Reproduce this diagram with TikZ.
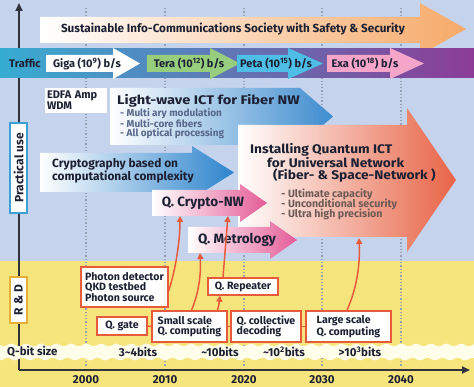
\documentclass[tikz,border=0pt]{standalone}
\usepackage{graphicx}
\usepackage{fontspec}
\setmainfont{Fira Sans}
\usetikzlibrary{arrows.meta,calc}
\definecolor{bgblue}{RGB}{198,211,237}
\definecolor{bgyellow}{RGB}{246,229,124}
\definecolor{gridc}{RGB}{150,160,178}
\definecolor{axisc}{RGB}{50,50,60}
\definecolor{txt}{RGB}{28,32,50}
\definecolor{topor}{RGB}{246,170,105}
\definecolor{teal}{RGB}{55,172,210}
\definecolor{midblue}{RGB}{100,125,195}
\definecolor{purp}{RGB}{140,60,150}
\definecolor{terag}{RGB}{150,206,125}
\definecolor{petac}{RGB}{78,190,230}
\definecolor{exap}{RGB}{244,165,200}
\definecolor{lwblue}{RGB}{62,140,207}
\definecolor{crblue}{RGB}{45,132,205}
\definecolor{qorange}{RGB}{232,100,70}
\definecolor{qpink}{RGB}{228,92,150}
\definecolor{redc}{RGB}{232,90,60}
\definecolor{bulblue}{RGB}{88,104,138}
\definecolor{bulbrown}{RGB}{110,90,85}
\definecolor{pracc}{RGB}{60,160,215}
\definecolor{rndc}{RGB}{230,175,55}
\newcommand{\wide}[2]{\scalebox{#1}[1]{#2}}
\begin{document}
\begin{tikzpicture}[x=1pt,y=-1pt,
  every node/.style={text=txt, font=\bfseries\fontsize{9}{10.5}\selectfont, inner sep=0pt},
  grid/.style={gridc, line width=1.3pt, dash pattern=on 1.3pt off 2pt},
  redbox/.style={draw=redc, line width=1.4pt, fill=white, align=left, inner sep=2pt, font=\bfseries\fontsize{10.6}{10.2}\selectfont},
  redarrow/.style={draw=redc, line width=1.5pt, -{Triangle[length=6pt,width=6pt]}},
  redline/.style={draw=redc, line width=1.4pt},
  sidebox/.style={fill=white, line width=1.6pt, rotate=90, minimum height=17pt, font=\bfseries\fontsize{12}{12}\selectfont},
  bigtxt/.style={font=\bfseries\fontsize{13.5}{14}\selectfont},
  qtxt/.style={font=\bfseries\fontsize{12.5}{14}\selectfont, anchor=west},
  bultxt/.style={font=\bfseries\fontsize{10}{10}\selectfont, anchor=west},
  yeartxt/.style={font=\bfseries\fontsize{11.5}{12}\selectfont},
  qbittxt/.style={font=\bfseries\fontsize{11.5}{12}\selectfont},
  traftxt/.style={font=\bfseries\fontsize{11}{12}\selectfont}
]
\useasboundingbox (0,0) rectangle (474,387);
% backgrounds
\fill[bgblue] (0,0) rectangle (474,261);
\fill[bgyellow] (0,261) rectangle (474,387);
% grid lines
\foreach \gx in {86,165,244,322,401} \draw[grid] (\gx,8) -- (\gx,366);
% axes
\coordinate (origin) at (19,370);
\coordinate (ytop) at (19,3);
\coordinate (xend) at (470,370);
\draw[axisc, line width=1.8pt, -{Triangle[length=8pt,width=7pt]}] (origin) -- (ytop);
\draw[axisc, line width=1.8pt, -{Triangle[length=8pt,width=7pt]}] (origin) -- (xend);
% q-bit wavy band
\fill[white!92!yellow] plot[domain=0:474, samples=160, smooth] (\x,{345+1.4*sin(\x*24)}) -- plot[domain=474:0, samples=160, smooth] (\x,{359+1.4*sin(\x*24+90)}) -- cycle;
% top arrow
\shade[left color=white, right color=topor] (40,17) -- (420,17) -- (420,3) -- (466,29) -- (420,55) -- (420,43) -- (40,43) -- cycle;
\node[font=\bfseries\fontsize{11.7}{12}\selectfont] (society) at (233,29.5) {Sustainable Info-Communications Society with Safety \& Security};
% traffic band
\shade[left color=teal, middle color=midblue, right color=purp] (0,49) rectangle (474,78);
\node[traftxt, anchor=west] (traffic) at (9,63.5) {Traffic};
\fill[white] (46,55) -- (113,55) -- (113,48) -- (140,63.5) -- (113,79) -- (113,72) -- (46,72) -- cycle;
\fill[terag] (147,55) -- (210,55) -- (210,48) -- (240,63.5) -- (210,79) -- (210,72) -- (147,72) -- cycle;
\fill[petac] (237,55) -- (288,55) -- (288,48) -- (323,63.5) -- (288,79) -- (288,72) -- (237,72) -- cycle;
\fill[exap] (327,55) -- (390,55) -- (390,48) -- (424,63.5) -- (390,79) -- (390,72) -- (327,72) -- cycle;
\node[traftxt] (giga) at (87,63.5) {Giga (10\textsuperscript{9}) b/s};
\node[traftxt] (tera) at (189,63.5) {Tera (10\textsuperscript{12}) b/s};
\node[traftxt] (peta) at (276,63.5) {Peta (10\textsuperscript{15}) b/s};
\node[traftxt] (exa) at (365,63.5) {Exa (10\textsuperscript{18}) b/s};
% EDFA box
\node[fill=white, minimum width=62pt, minimum height=25pt, align=left, text width=58pt, font=\bfseries\fontsize{11}{10}\selectfont] (edfa) at (76,100.5) {EDFA Amp\\WDM};
% light-wave arrow
\shade[left color=white, right color=lwblue] (110,88) -- (300,88) -- (333,116.5) -- (300,145) -- (110,145) -- cycle;
\node[qtxt] (lw) at (117,101) {\wide{1.17}{Light-wave ICT for Fiber NW}};
\node[bultxt, text=bulblue] (lw1) at (120,113.5) {- Multi ary modulation};
\node[bultxt, text=bulblue] (lw2) at (120,123.5) {- Multi-core fibers};
\node[bultxt, text=bulblue] (lw3) at (120,133.5) {- All optical processing};
% cryptography arrow
\shade[left color=white, right color=crblue] (40,153) -- (192,153) -- (192,146) -- (234,172.5) -- (192,199) -- (192,192) -- (40,192) -- cycle;
\node[anchor=west, align=left, font=\bfseries\fontsize{11.9}{11.5}\selectfont] (crypto) at (52,171) {Cryptography based on\\computational complexity};
% installing quantum ICT arrow
\shade[left color=white, right color=qorange] (238,125) -- (407,125) -- (407,108) -- (456,180) -- (407,252) -- (407,237) -- (238,237) -- cycle;
\node[qtxt] (qict1) at (250,150) {\wide{1.1}{Installing Quantum ICT}};
\node[qtxt] (qict2) at (267,163) {\wide{1.1}{for Universal Network}};
\node[qtxt] (qict3) at (273,176) {\wide{1.1}{(Fiber- \& Space-Network )}};
\node[bultxt, text=bulbrown, font=\bfseries\fontsize{10.6}{10}\selectfont] (qb1) at (281,194) {- Ultimate capacity};
\node[bultxt, text=bulbrown, font=\bfseries\fontsize{10.6}{10}\selectfont] (qb2) at (281,204) {- Unconditional security};
\node[bultxt, text=bulbrown, font=\bfseries\fontsize{10.6}{10}\selectfont] (qb3) at (281,214) {- Ultra high precision};
\coordinate (qictin) at (359,238);
% Q. Crypto-NW arrow
\shade[left color=white, right color=qpink] (152,190) -- (240,190) -- (240,184) -- (267,203) -- (240,222) -- (240,216) -- (152,216) -- cycle;
\node[bigtxt] (qcnw) at (203,203) {Q. Crypto-NW};
\coordinate (cnwa) at (180,216);
\coordinate (cnwb) at (228,216);
% Q. Metrology arrow
\shade[left color=white, right color=qpink] (188,227) -- (270,227) -- (270,221) -- (297,240) -- (270,259) -- (270,253) -- (188,253) -- cycle;
\node[bigtxt] (qmet) at (237,240) {Q. Metrology};
\coordinate (meta) at (200,253);
% side labels
\node[sidebox, draw=pracc, minimum width=90pt] (practical) at (18.5,168) {Practical use};
\node[sidebox, draw=rndc, minimum width=46pt] (rnd) at (18.5,300) {R \& D};
% red boxes
\node[redbox, minimum width=87pt, minimum height=40pt] (pd) at (124.5,287) {Photon detector\\QKD testbed\\Photon source};
\node[redbox, minimum width=70pt, minimum height=17pt] (rep) at (243,286.5) {Q. Repeater};
\node[redbox, minimum width=50pt, minimum height=18pt] (gate) at (122,326) {Q. gate};
\node[redbox, minimum width=75pt, minimum height=31pt] (small) at (189.5,326.5) {Small scale\\Q. computing};
\node[redbox, minimum width=70pt, minimum height=31pt] (coll) at (266,326.5) {Q. collective\\decoding};
\node[redbox, minimum width=85pt, minimum height=31pt] (large) at (348.5,326.5) {Large scale\\Q. computing};
\draw[redline] (gate) -- (small);
\draw[redline] (small) -- (coll);
\draw[redline] (coll) -- (large);
% red curved arrows
\draw[redarrow] ([yshift=-4pt]pd.east) .. controls (176,268) and (180,240) .. (cnwa);
\draw[redarrow] ([xshift=2pt]small.north) .. controls (200,290) and (201,270) .. (meta);
\draw[redarrow] ([xshift=28pt]small.north) .. controls (219,304) .. ([xshift=-23pt]rep.south);
\draw[redarrow] ([xshift=-20pt]rep.north) .. controls (225,250) .. (cnwb);
\draw[redarrow] ([xshift=-1.5pt]large.north) .. controls (358,285) and (360,262) .. (qictin);
% q-bit size labels
\node[qbittxt, anchor=west] (qbit) at (7,352) {Q-bit size};
\node[qbittxt] (qb34) at (138,352) {3\textasciitilde 4bits};
\node[qbittxt] (qb10) at (220,352) {\textasciitilde 10bits};
\node[qbittxt] (qb100) at (284,352) {\textasciitilde 10\textsuperscript{2}bits};
\node[qbittxt] (qb1000) at (360,352) {>10\textsuperscript{3}bits};
% years
\node[yeartxt] (y2000) at (86,379.5) {2000};
\node[yeartxt] (y2010) at (165,379.5) {2010};
\node[yeartxt] (y2020) at (244,379.5) {2020};
\node[yeartxt] (y2030) at (322,379.5) {2030};
\node[yeartxt] (y2040) at (401,379.5) {2040};
\end{tikzpicture}
\end{document}
